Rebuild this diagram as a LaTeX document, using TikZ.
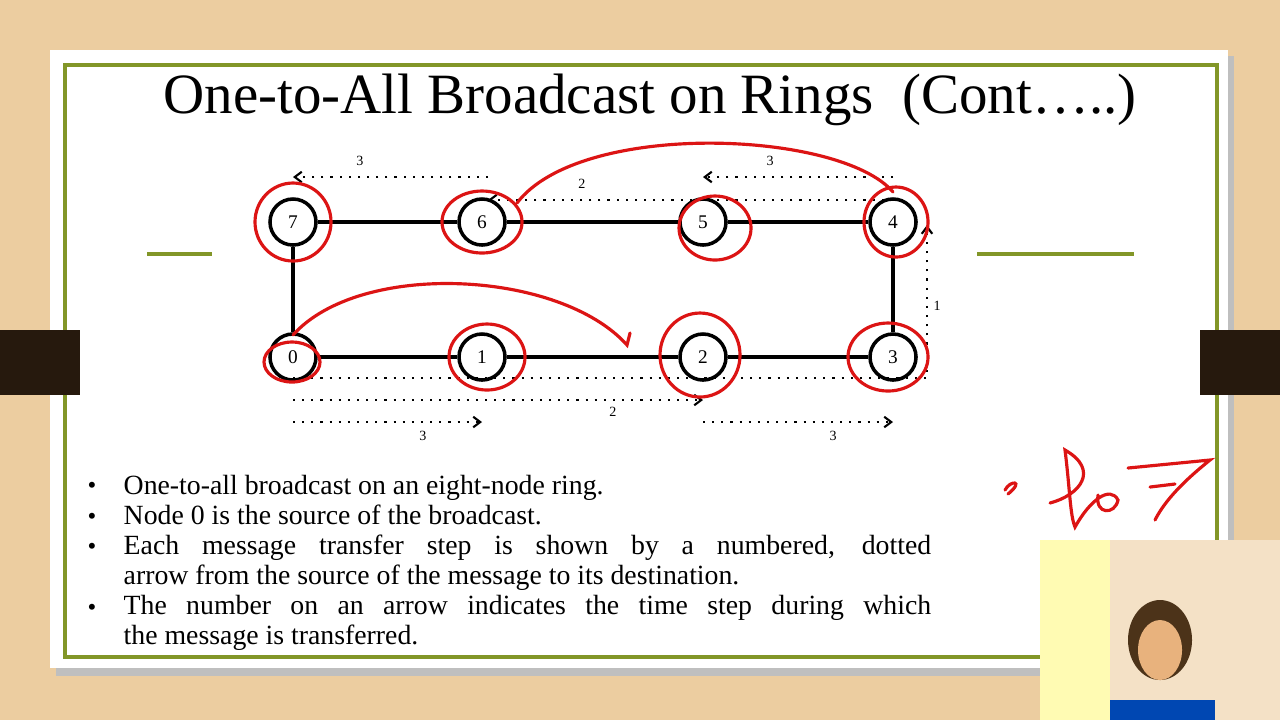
\documentclass[tikz,border=0pt]{standalone}
\usepackage{fontspec}
\setmainfont{Liberation Serif}
\usetikzlibrary{arrows.meta}
\definecolor{wood}{RGB}{236,205,160}
\definecolor{olive}{RGB}{130,150,40}
\definecolor{hand}{RGB}{220,20,20}
\tikzset{
 ringnode/.style={circle,draw,line width=1pt,minimum size=0.46cm,inner sep=0pt,font=\fontsize{5.5}{6}\selectfont,fill=white},
 link/.style={line width=1.3pt},
 msg/.style={dotted,line width=0.6pt,-{Straight Barb[length=2pt,width=3pt]}},
 lbl/.style={font=\fontsize{4}{5}\selectfont},
 ink/.style={hand,line width=0.9pt,line cap=round},
}
\begin{document}
\begin{tikzpicture}[x=0.01cm,y=-0.01cm]
\useasboundingbox (0,0) rectangle (1280,720);
\fill[wood] (0,0) rectangle (1280,720);
\fill[black!25] (56,56) rectangle (1234,676);
\fill[white] (50,50) rectangle (1228,668);
\draw[olive,line width=1pt] (65,65) rectangle (1217,657);
\fill[black!80!brown] (0,330) rectangle (80,395);
\fill[black!80!brown] (1200,330) rectangle (1280,395);
\draw[olive,line width=1pt] (147,254) -- (212,254) (977,254) -- (1134,254);
\node[font=\fontsize{16.2}{18}\selectfont,anchor=center] (title) at (650,100) {One-to-All Broadcast on Rings\ \ (Cont…..)};
\fill[white] (212,142) rectangle (977,453);
% nodes
\node[ringnode] (n0) at (293,357) {0};
\node[ringnode] (n1) at (482,357) {1};
\node[ringnode] (n2) at (703,357) {2};
\node[ringnode] (n3) at (893,357) {3};
\node[ringnode] (n4) at (893,222) {4};
\node[ringnode] (n5) at (703,222) {5};
\node[ringnode] (n6) at (482,222) {6};
\node[ringnode] (n7) at (293,222) {7};
\draw[link] (n0)--(n1) (n1)--(n2) (n2)--(n3) (n3)--(n4) (n4)--(n5) (n5)--(n6) (n6)--(n7) (n7)--(n0);
% messages
\coordinate (a0) at (293,378); \coordinate (a1) at (927,378); \coordinate (a2) at (927,225);
\draw[msg] (a0) -- (a1) -- (a2);
\node[lbl] (l1) at (937,306) {1};
\coordinate (b0) at (293,400); \coordinate (b1) at (703,400);
\draw[msg] (b0) -- (b1); \node[lbl] (l2a) at (613,412) {2};
\coordinate (c0) at (293,422); \coordinate (c1) at (482,422);
\draw[msg] (c0) -- (c1); \node[lbl] (l3a) at (423,436) {3};
\coordinate (d0) at (703,422); \coordinate (d1) at (893,422);
\draw[msg] (d0) -- (d1); \node[lbl] (l3b) at (833,436) {3};
\coordinate (e0) at (893,200); \coordinate (e1) at (488,200);
\draw[msg] (e0) -- (e1); \node[lbl] (l2b) at (582,184) {2};
\coordinate (f0) at (488,177); \coordinate (f1) at (293,177);
\draw[msg] (f0) -- (f1); \node[lbl] (l3c) at (360,161) {3};
\coordinate (g0) at (893,177); \coordinate (g1) at (703,177);
\draw[msg] (g0) -- (g1); \node[lbl] (l3d) at (770,161) {3};
% handwriting
\draw[ink] (n7) ellipse (38 and 39);
\draw[ink] (n6) ellipse (40 and 31);
\draw[ink] (715,228) ellipse (36 and 32);
\draw[ink] (896,222) ellipse (32 and 35);
\draw[ink] (292,362) ellipse (28 and 20);
\draw[ink] (487,357) ellipse (38 and 33);
\draw[ink] (700,355) ellipse (40 and 42);
\draw[ink] (888,357) ellipse (40 and 34);
\draw[ink] (517,203) .. controls (580,120) and (840,130) .. (893,192);
\draw[ink] (293,335) .. controls (360,260) and (560,270) .. (627,345) -- (630,333);
\draw[ink] (1005,490) .. controls (1010,480) and (1025,480) .. (1008,494);
\draw[ink] (1050,503) .. controls (1080,495) and (1100,470) .. (1065,450) .. controls (1070,490) and (1070,515) .. (1075,527) .. controls (1090,500) and (1110,485) .. (1118,500) .. controls (1115,515) and (1095,515) .. (1098,495);
\draw[ink] (1128,468) -- (1210,460) .. controls (1185,480) and (1165,500) .. (1155,520);
\draw[ink] (1150,487) -- (1175,484);
% bullets
\node[anchor=north west,text width=8.07cm,align=justify,font=\fontsize{7.9}{8.55}\selectfont,inner sep=0pt] (txt) at (123,474) {%
One-to-all broadcast on an eight-node ring.\par
Node 0 is the source of the broadcast.\par
Each message transfer step is shown by a numbered, dotted\linebreak arrow from the source of the message to its destination.\par
The number on an arrow indicates the time step during which\linebreak the message is transferred.\par};
\foreach \yy in {488,519,549,610} \node[font=\fontsize{7.1}{8.5}\selectfont] at (92,\yy) {•};
% webcam
\fill[wood!60!white] (1040,540) rectangle (1280,720);
\fill[yellow!30!white] (1040,540) rectangle (1110,720);
\fill[black!60!brown] (1160,640) ellipse (32 and 40);
\fill[orange!40!brown!60] (1160,650) ellipse (22 and 30);
\fill[blue!60!cyan!70!black] (1110,700) rectangle (1215,720);
\end{tikzpicture}
\end{document}
